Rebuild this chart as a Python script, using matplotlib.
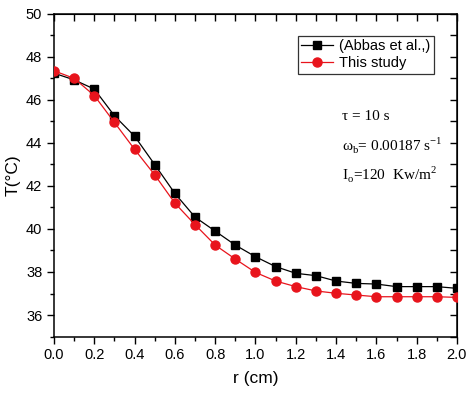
import matplotlib
matplotlib.use("Agg")
import matplotlib.pyplot as plt
from matplotlib.ticker import MultipleLocator, FormatStrFormatter

r = [0.0, 0.1, 0.2, 0.3, 0.4, 0.5, 0.6, 0.7, 0.8, 0.9, 1.0,
     1.1, 1.2, 1.3, 1.4, 1.5, 1.6, 1.7, 1.8, 1.9, 2.0]
abbas = [47.24, 46.93, 46.5, 45.26, 44.31, 42.99, 41.65, 40.55, 39.9, 39.25, 38.71,
         38.25, 37.94, 37.83, 37.58, 37.47, 37.44, 37.32, 37.32, 37.32, 37.24]
this_study = [47.35, 47.0, 46.2, 44.95, 43.7, 42.51, 41.2, 40.2, 39.25, 38.6, 37.98,
              37.58, 37.32, 37.12, 37.01, 36.93, 36.85, 36.85, 36.85, 36.85, 36.82]

plt.rcParams['font.family'] = ['Liberation Sans', 'DejaVu Sans']
plt.rcParams['mathtext.fontset'] = 'custom'

fig = plt.figure(figsize=(4.74, 3.95), dpi=100)
ax = fig.add_axes([0.114, 0.148, 0.850, 0.817])

ax.plot(r, abbas, color='black', lw=0.9, marker='s', ms=5.8,
        mfc='black', mec='black', label='(Abbas et al.,)', zorder=3)
ax.plot(r, this_study, color='#e8141c', lw=0.9, marker='o', ms=6.5,
        mfc='#e8141c', mec='#e8141c', label='This study', zorder=3)

ax.set_xlim(0, 2.0)
ax.set_ylim(35, 50)
ax.xaxis.set_major_locator(MultipleLocator(0.2))
ax.xaxis.set_minor_locator(MultipleLocator(0.1))
ax.yaxis.set_major_locator(MultipleLocator(2))
ax.yaxis.set_minor_locator(MultipleLocator(1))
ax.set_yticks([36, 38, 40, 42, 44, 46, 48, 50])
ax.xaxis.set_major_formatter(FormatStrFormatter('%.1f'))

ax.tick_params(which='major', direction='out', length=5, width=1, labelsize=10.5,
               top=False, right=False)
ax.tick_params(which='minor', direction='out', length=3, width=1,
               top=False, right=False)
for s in ax.spines.values():
    s.set_linewidth(1.1)

axr = ax.secondary_yaxis('right')
axr.yaxis.set_major_locator(MultipleLocator(1))
axr.tick_params(direction='in', length=5, width=1, labelright=False)
axt = ax.secondary_xaxis('top')
axt.xaxis.set_major_locator(MultipleLocator(0.1))
axt.tick_params(direction='in', length=5, width=1, labeltop=False)

ax.set_xlabel('r (cm)', fontsize=12.5, labelpad=6)
ax.set_ylabel('T(°C)', fontsize=12.5, labelpad=4)

leg = ax.legend(loc='upper right', bbox_to_anchor=(0.943, 0.932), fontsize=10.5,
                frameon=True, fancybox=False, edgecolor='black', handlelength=2.2,
                borderpad=0.25, labelspacing=0.2, handletextpad=0.4, borderaxespad=0)
leg.get_frame().set_linewidth(0.9)

serif = ['Liberation Serif', 'DejaVu Serif']
ax.text(0.715, 0.681, 'τ = 10 s', transform=ax.transAxes, fontsize=11,
        family=serif, va='center')
ax.text(0.715, 0.593, r'ω$_\mathregular{b}$= 0.00187 s$^\mathregular{-1}$',
        transform=ax.transAxes, fontsize=11, family=serif, va='center')
ax.text(0.715, 0.505, r'I$_\mathregular{o}$=120  Kw/m$^\mathregular{2}$',
        transform=ax.transAxes, fontsize=11, family=serif, va='center')

fig.savefig('out.png', dpi=100)
